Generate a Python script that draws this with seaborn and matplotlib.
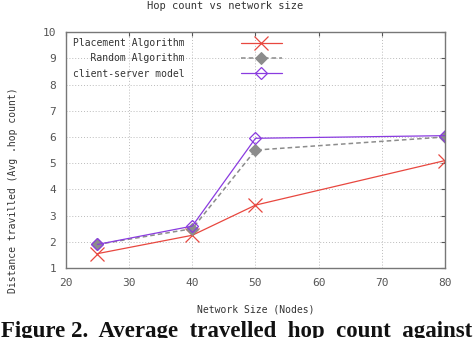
import matplotlib
matplotlib.use("Agg")
import matplotlib.pyplot as plt
import seaborn as sns
import pandas as pd

# Network sizes (nodes) and average hop counts per strategy
network_size = [25, 40, 50, 80]
placement = [1.55, 2.25, 3.4, 5.1]
random_alg = [1.9, 2.5, 5.5, 6.0]
client_server = [1.9, 2.6, 5.95, 6.05]

x_ticks = [20, 30, 40, 50, 60, 70, 80]
y_ticks = [1, 2, 3, 4, 5, 6, 7, 8, 9, 10]

sns.set_theme(style="white")
plt.rcParams["font.family"] = ["DejaVu Sans Mono"]

fig = plt.figure(figsize=(4.74, 3.38), dpi=100)
ax = fig.add_axes([0.139, 0.207, 0.800, 0.698])

df = pd.DataFrame({"size": network_size, "placement": placement,
                   "random": random_alg, "cs": client_server})

sns.lineplot(data=df, x="size", y="placement", ax=ax, color="#e8473f", lw=0.9,
             marker="x", markersize=10, markeredgewidth=0.9,
             markeredgecolor="#e8473f", label="Placement Algorithm")
sns.lineplot(data=df, x="size", y="random", ax=ax, color="#8c8c8c", lw=1.1,
             linestyle=(0, (3, 2)), marker="D", markersize=6.5,
             markerfacecolor="#8c8c8c", markeredgecolor="#8c8c8c",
             label="    Random Algorithm")
sns.lineplot(data=df, x="size", y="cs", ax=ax, color="#8a3be0", lw=0.9,
             marker="D", markersize=6.5, markerfacecolor="none",
             markeredgecolor="#8a3be0", markeredgewidth=0.9,
             label="client-server model")

ax.set_xlim(20, 80)
ax.set_ylim(1, 10)
ax.set_xticks(x_ticks)
ax.set_yticks(y_ticks)
ax.tick_params(axis="both", direction="in", length=3, width=0.8,
               labelsize=8, colors="#555555", top=True, right=True, pad=7)
ax.grid(True, linestyle=(0, (1, 2)), color="#bbbbbb", linewidth=0.7)
for s in ax.spines.values():
    s.set_color("#777777")
    s.set_linewidth(1.0)

ax.set_xlabel("Network Size (Nodes)", fontsize=7, color="#333333", labelpad=12)
ax.set_ylabel("Distance travilled (Avg .hop count)", fontsize=7,
              color="#333333")
ax.yaxis.set_label_coords(-0.125, 0.33)
fig.text(225 / 474, 1 - 6 / 338, "Hop count vs network size", fontsize=7.5,
         color="#333333", ha="center", va="center")

leg = ax.legend(loc="upper left", bbox_to_anchor=(-0.012, 1.0), frameon=False,
                markerfirst=False, fontsize=7, handlelength=4.2,
                handletextpad=5.8, labelspacing=0.55, borderaxespad=0.2)
for t in leg.get_texts():
    t.set_color("#333333")

fig.text(0.5, 1.0 / 338, "Figure 2.  Average  travelled  hop  count  against",
         ha="center", va="baseline", fontsize=16.5, fontweight="bold",
         family=["Liberation Serif"], color="#111111")

fig.savefig("out.png", dpi=100)
